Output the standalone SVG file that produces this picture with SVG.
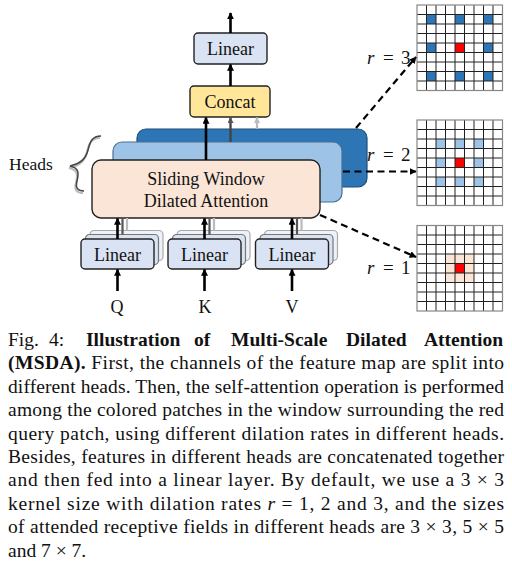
<svg xmlns="http://www.w3.org/2000/svg" width="512" height="566" viewBox="0 0 512 566">
<style>
.lbl{font-family:"Liberation Serif","Times New Roman",serif;font-size:18px;fill:#111;text-anchor:middle}
.cap{font-family:"Liberation Serif","Times New Roman",serif;font-size:19.5px;fill:#111}
.b{font-weight:bold}
.it{font-style:italic}
.box{stroke:#222;stroke-width:1.4}
.lin{fill:#dae3f3}
.blk{stroke:#000;stroke-width:2.6;fill:none}
.dash{stroke:#000;stroke-width:2.2;stroke-dasharray:7 4.5;fill:none}
.gl{stroke:#222;stroke-width:1;fill:none}
</style>
<defs>
<marker id="ah" viewBox="0 0 10 10" refX="9" refY="5" markerUnits="userSpaceOnUse" markerWidth="7" markerHeight="7" orient="auto"><path d="M0,0 L10,5 L0,10 z" fill="#000"/></marker>
<marker id="ahd" viewBox="0 0 10 10" refX="9" refY="5" markerUnits="userSpaceOnUse" markerWidth="6" markerHeight="6" orient="auto"><path d="M0,0 L10,5 L0,10 z" fill="#555"/></marker>
<marker id="ahl" viewBox="0 0 10 10" refX="9" refY="5" markerUnits="userSpaceOnUse" markerWidth="6" markerHeight="6" orient="auto"><path d="M0,0 L10,5 L0,10 z" fill="#bbb"/></marker>
<g id="stack">
<rect x="9" y="-8.5" width="73" height="30" rx="4" fill="#eef1f8" stroke="#aaa" stroke-width="1.2"/>
<rect x="4.5" y="-4.5" width="73" height="30" rx="4" fill="#dae3f3" stroke="#777" stroke-width="1.2"/>
<rect x="0" y="0" width="73" height="30" rx="4" class="box lin"/>
</g>
</defs>

<!-- head boxes -->
<g id="head3"><rect x="137" y="129" width="230" height="58" rx="9" fill="#2e75b6" stroke="#1f4e79" stroke-width="1.2"/></g>
<g id="head2"><rect x="113" y="142" width="229" height="60" rx="9" fill="#9dc3e6" stroke="#4a6f92" stroke-width="1.2"/></g>
<g id="swda"><rect x="92" y="160" width="228" height="58" rx="9" fill="#fbe5d6" class="box"/>
<text class="lbl" x="206" y="185">Sliding Window</text>
<text class="lbl" x="206" y="207">Dilated Attention</text></g>

<g id="linear-top"><rect x="194" y="33" width="73" height="31" rx="4" class="box lin"/><text class="lbl" x="230.5" y="55">Linear</text></g>
<g id="concat"><rect x="190" y="86" width="80" height="31" rx="4" class="box" fill="#ffe699"/><text class="lbl" x="230" y="108">Concat</text></g>

<g id="linear-q"><use href="#stack" x="81" y="239"/><text class="lbl" x="117.5" y="261">Linear</text></g>
<g id="linear-k"><use href="#stack" x="168" y="239"/><text class="lbl" x="204.5" y="261">Linear</text></g>
<g id="linear-v"><use href="#stack" x="255.5" y="239"/><text class="lbl" x="292" y="261">Linear</text></g>

<g id="inputs">
<text class="lbl" x="117" y="313">Q</text>
<text class="lbl" x="205" y="313">K</text>
<text class="lbl" x="292" y="313">V</text>
</g>

<g id="heads-label">
<text x="9" y="170" style="font-family:'Liberation Serif',serif;font-size:17.5px;fill:#111">Heads</text>
<path d="M101,136 C92,136 90,142 88,150 C86,158 82,163 70,166 C79,168 79,173 77,181 C75,188 78,191 84,191" fill="none" stroke="#bbb" stroke-width="2.2" transform="translate(-1,2)"/>
<path d="M101,136 C92,136 90,142 88,150 C86,158 82,163 70,166 C79,168 79,173 77,181 C75,188 78,191 84,191" fill="none" stroke="#444" stroke-width="1.5"/>
</g>

<!-- grids -->
<g id="grid-r3">
<rect x="417" y="5" width="85.5" height="85.5" fill="#fff"/>
<g fill="#2e75b6">
<rect x="426.5" y="14.5" width="9.5" height="9.5"/><rect x="455" y="14.5" width="9.5" height="9.5"/><rect x="483.5" y="14.5" width="9.5" height="9.5"/>
<rect x="426.5" y="43" width="9.5" height="9.5"/><rect x="483.5" y="43" width="9.5" height="9.5"/>
<rect x="426.5" y="71.5" width="9.5" height="9.5"/><rect x="455" y="71.5" width="9.5" height="9.5"/><rect x="483.5" y="71.5" width="9.5" height="9.5"/>
</g>
<rect x="455" y="43" width="9.5" height="9.5" fill="#ff0000"/>
<path class="gl" d="M426.5,5V90.5M436,5V90.5M445.5,5V90.5M455,5V90.5M464.5,5V90.5M474,5V90.5M483.5,5V90.5M493,5V90.5M417,14.5H502.5M417,24H502.5M417,33.5H502.5M417,43H502.5M417,52.5H502.5M417,62H502.5M417,71.5H502.5M417,81H502.5"/>
<rect x="417" y="5" width="85.5" height="85.5" fill="none" stroke="#888" stroke-width="1.2"/>
<text x="367" y="64" class="cap it" style="font-size:19px">r</text><text x="383" y="64" class="cap" style="font-size:19px">=</text><text x="401" y="64" class="cap" style="font-size:19px">3</text>
</g>

<g id="grid-r2">
<rect x="417" y="120" width="85.5" height="85.5" fill="#fff"/>
<g fill="#9dc3e6">
<rect x="436" y="139" width="9.5" height="9.5"/><rect x="455" y="139" width="9.5" height="9.5"/><rect x="474" y="139" width="9.5" height="9.5"/>
<rect x="436" y="158" width="9.5" height="9.5"/><rect x="474" y="158" width="9.5" height="9.5"/>
<rect x="436" y="177" width="9.5" height="9.5"/><rect x="455" y="177" width="9.5" height="9.5"/><rect x="474" y="177" width="9.5" height="9.5"/>
</g>
<rect x="455" y="158" width="9.5" height="9.5" fill="#ff0000"/>
<path class="gl" d="M426.5,120V205.5M436,120V205.5M445.5,120V205.5M455,120V205.5M464.5,120V205.5M474,120V205.5M483.5,120V205.5M493,120V205.5M417,129.5H502.5M417,139H502.5M417,148.5H502.5M417,158H502.5M417,167.5H502.5M417,177H502.5M417,186.5H502.5M417,196H502.5"/>
<rect x="417" y="120" width="85.5" height="85.5" fill="none" stroke="#888" stroke-width="1.2"/>
<text x="367" y="161" class="cap it" style="font-size:19px">r</text><text x="383" y="161" class="cap" style="font-size:19px">=</text><text x="401" y="161" class="cap" style="font-size:19px">2</text>
</g>

<g id="grid-r1">
<rect x="417" y="225.5" width="85.5" height="85.5" fill="#fff"/>
<rect x="445.5" y="254" width="28.5" height="28.5" fill="#fbe5d6"/>
<rect x="455" y="263.5" width="9.5" height="9.5" fill="#ff0000"/>
<path class="gl" d="M426.5,225.5V311M436,225.5V311M445.5,225.5V311M455,225.5V311M464.5,225.5V311M474,225.5V311M483.5,225.5V311M493,225.5V311M417,235H502.5M417,244.5H502.5M417,254H502.5M417,263.5H502.5M417,273H502.5M417,282.5H502.5M417,292H502.5M417,301.5H502.5"/>
<rect x="417" y="225.5" width="85.5" height="85.5" fill="none" stroke="#888" stroke-width="1.2"/>
<text x="367" y="274" class="cap it" style="font-size:19px">r</text><text x="383" y="274" class="cap" style="font-size:19px">=</text><text x="401" y="274" class="cap" style="font-size:19px">1</text>
</g>

<!-- connectors -->
<g id="connectors">
<line class="blk" x1="230.5" y1="33" x2="230.5" y2="13" marker-end="url(#ah)"/>
<line class="blk" x1="230.5" y1="86" x2="230.5" y2="64.5" marker-end="url(#ah)"/>
<line class="blk" x1="206" y1="160" x2="206" y2="117.5" marker-end="url(#ah)"/>
<line x1="230.5" y1="142" x2="230.5" y2="117.5" stroke="#444" stroke-width="2.4" marker-end="url(#ahd)"/>
<line x1="257" y1="129" x2="257" y2="117.5" stroke="#bbb" stroke-width="2.2" marker-end="url(#ahl)"/>
<g stroke-width="2.2">
<line x1="122.5" y1="234.5" x2="122.5" y2="218" stroke="#555"/><line x1="127" y1="230.5" x2="127" y2="218" stroke="#bbb"/>
<line x1="209.5" y1="234.5" x2="209.5" y2="218" stroke="#555"/><line x1="214" y1="230.5" x2="214" y2="218" stroke="#bbb"/>
<line x1="297" y1="234.5" x2="297" y2="218" stroke="#555"/><line x1="301.5" y1="230.5" x2="301.5" y2="218" stroke="#bbb"/>
</g>
<line class="blk" x1="117.5" y1="239" x2="117.5" y2="218.5" marker-end="url(#ah)"/>
<line class="blk" x1="204.5" y1="239" x2="204.5" y2="218.5" marker-end="url(#ah)"/>
<line class="blk" x1="292" y1="239" x2="292" y2="218.5" marker-end="url(#ah)"/>
<line class="blk" x1="117.5" y1="291" x2="117.5" y2="269.5" marker-end="url(#ah)"/>
<line class="blk" x1="204.5" y1="291" x2="204.5" y2="269.5" marker-end="url(#ah)"/>
<line class="blk" x1="292" y1="291" x2="292" y2="269.5" marker-end="url(#ah)"/>
<line class="dash" x1="356" y1="128" x2="416" y2="57" marker-end="url(#ah)"/>
<line class="dash" x1="343" y1="171.5" x2="416" y2="171.5" marker-end="url(#ah)"/>
<line class="dash" x1="320" y1="215" x2="416" y2="257" marker-end="url(#ah)"/>
</g>

<!-- caption -->
<g id="caption">
<text class="cap" x="8" y="346">Fig.</text>
<text class="cap" x="49" y="346">4:</text>
<text class="cap b" x="86" y="346">Illustration</text>
<text class="cap b" x="194" y="346">of</text>
<text class="cap b" x="231" y="346">Multi-Scale</text>
<text class="cap b" x="346" y="346">Dilated</text>
<text class="cap b" x="503" y="346" text-anchor="end">Attention</text>
<text class="cap" x="8" y="369.4" textLength="496" lengthAdjust="spacing"><tspan class="b">(MSDA).</tspan> First, the channels of the feature map are split into</text>
<text class="cap" x="8" y="392.8" textLength="496" lengthAdjust="spacing">different heads. Then, the self-attention operation is performed</text>
<text class="cap" x="8" y="416.2" textLength="496" lengthAdjust="spacing">among the colored patches in the window surrounding the red</text>
<text class="cap" x="8" y="439.6" textLength="496" lengthAdjust="spacing">query patch, using different dilation rates in different heads.</text>
<text class="cap" x="8" y="463" textLength="496" lengthAdjust="spacing">Besides, features in different heads are concatenated together</text>
<text class="cap" x="8" y="486.4" textLength="496" lengthAdjust="spacing">and then fed into a linear layer. By default, we use a 3 × 3</text>
<text class="cap" x="8" y="509.8" textLength="496" lengthAdjust="spacing">kernel size with dilation rates <tspan class="it">r</tspan> = 1, 2 and 3, and the sizes</text>
<text class="cap" x="8" y="533.2" textLength="496" lengthAdjust="spacing">of attended receptive fields in different heads are 3 × 3, 5 × 5</text>
<text class="cap" x="8" y="556.6">and 7 × 7.</text>
</g>
</svg>
